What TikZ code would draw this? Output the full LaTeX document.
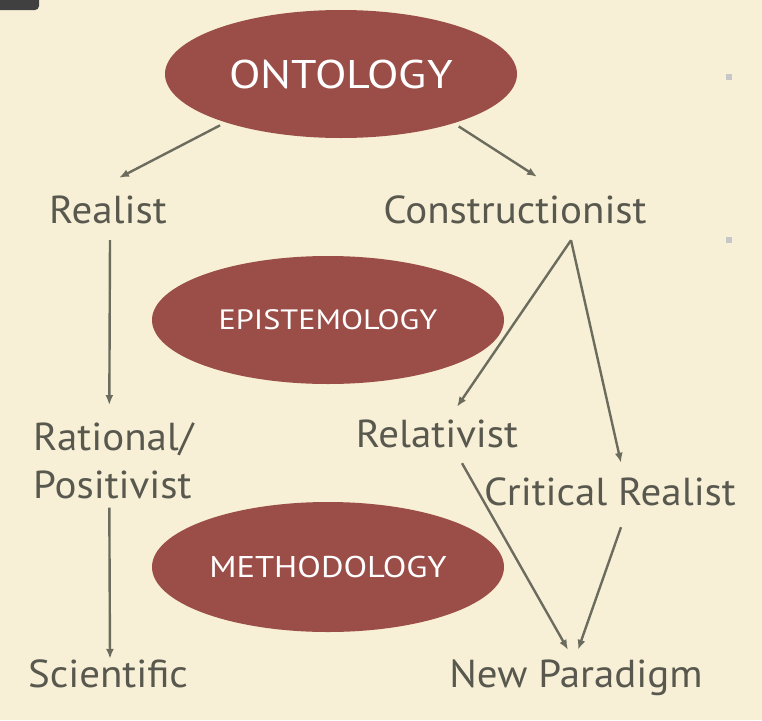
\documentclass[tikz,border=0pt]{standalone}
\usepackage{fontspec}
\setmainfont{PT Sans}[FakeStretch=1.05]
\newfontfamily\capsfont{PT Sans}[FakeStretch=1.15]
\usepackage{xcolor}
\usepackage{tikz}
\usetikzlibrary{shapes.geometric,arrows.meta,positioning}
\definecolor{paper}{RGB}{247,240,214}
\definecolor{wine}{RGB}{155,78,72}
\definecolor{ink}{RGB}{88,88,78}
\definecolor{wire}{RGB}{108,108,94}
\begin{document}
\begin{tikzpicture}[x=1pt,y=-1pt,
	blob/.style={ellipse,fill=wine,text=white,minimum width=352pt,minimum height=128pt,outer sep=5pt},
	txt/.style={text=ink,font=\fontsize{39}{48}\selectfont,inner sep=0pt},
	word/.style={txt,text height=28pt,text depth=8pt,anchor=base},
	link/.style={draw=wire,line width=2.4pt,-{Latex[length=10pt,width=8pt]}}]
		\fill[paper] (0,0) rectangle (762,720);
		\useasboundingbox (0,0) rectangle (762,720);
		\fill[black!75,rounded corners=4pt] (-6,-6) rectangle (39,10);
		\fill[black!22] (726,74) rectangle (732,80);
		\fill[black!22] (726,237) rectangle (732,243);
		\node[blob,font=\capsfont\fontsize{40}{44}\selectfont] (onto) at (341,74) {ONTOLOGY};
		\node[blob,font=\capsfont\fontsize{28}{32}\selectfont] (episte) at (328,320) {EPISTEMOLOGY};
		\node[blob,font=\capsfont\fontsize{30}{34}\selectfont,minimum height=130pt] (method) at (328,567) {METHODOLOGY};
		\node[word] (realist) at (108,223) {Realist};
		\node[word] (constr) at (515,223) {Constructionist};
		\node[txt,align=left,anchor=base west] (ratpos) at (33,498) {Rational/\\Positivist};
		\node[word] (relat) at (437,447) {Relativist};
		\node[word] (critic) at (610,505) {Critical Realist};
		\node[word] (scient) at (108,687) {Scientific};
		\node[word] (newpar) at (576,687) {New Paradigm};
		\draw[link] (onto.-157) -- ([xshift=11pt,yshift=17pt]realist.north);
		\draw[link] (onto.-24) -- ([xshift=22pt,yshift=18pt]constr.north);
		\draw[link] ([xshift=2pt,yshift=-9pt]realist.south) -- ([xshift=-4pt,yshift=17pt]ratpos.north);
		\draw[link] ([xshift=56pt,yshift=-9pt]constr.south) -- ([xshift=20pt,yshift=12pt]relat.north);
		\draw[link] ([xshift=56pt,yshift=-9pt]constr.south) -- ([xshift=11pt,yshift=14pt]critic.north);
		\draw[link] ([xshift=-4pt,yshift=-9pt]ratpos.south) -- ([xshift=2pt]scient.north);
		\draw[link] ([xshift=25pt,yshift=-8pt]relat.south) -- ([xshift=-8pt,yshift=9pt]newpar.north);
		\draw[link] ([xshift=11pt,yshift=-14pt]critic.south) -- ([xshift=2pt,yshift=9pt]newpar.north);
	\end{tikzpicture}
\end{document}
